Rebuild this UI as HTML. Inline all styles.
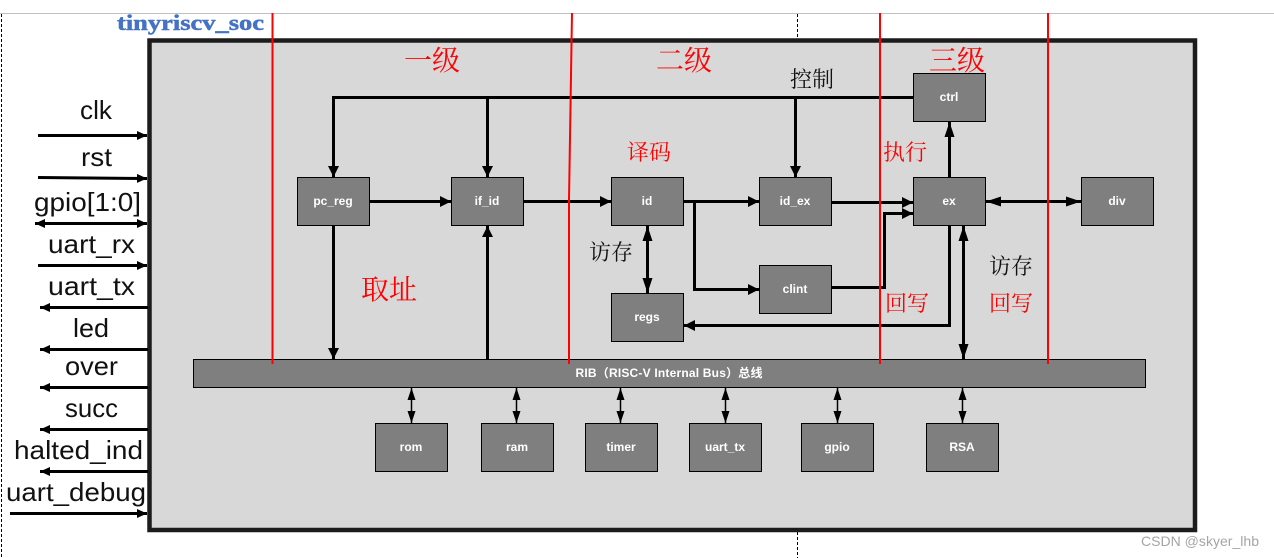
<!DOCTYPE html>
<html><head><meta charset="utf-8"><style>
html,body{margin:0;padding:0;background:#fff;width:1274px;height:558px;overflow:hidden}
svg{display:block}
.p{font:26px "Liberation Sans","Noto Sans CJK SC",sans-serif;fill:#111}
.b{font:bold 12px "Liberation Sans","Noto Sans CJK SC",sans-serif;fill:#fff;text-anchor:middle}
.c{font:25px "Noto Serif CJK SC",serif;fill:#111}
.r{font:25px "Noto Serif CJK SC",serif;fill:#f00}
.box{fill:#7f7f7f;stroke:#000;stroke-width:1}
.l{stroke:#000;stroke-width:3;fill:none}
</style></head><body>
<svg width="1274" height="558" viewBox="0 0 1274 558" xmlns="http://www.w3.org/2000/svg">
<defs>
<marker id="a" viewBox="0 0 10 10" refX="10" refY="5" markerWidth="10" markerHeight="9" preserveAspectRatio="none" markerUnits="userSpaceOnUse" orient="auto-start-reverse"><path d="M0 0L10 5L0 10Z" fill="#000"/></marker>
<marker id="A" viewBox="0 0 10 10" refX="10" refY="5" markerWidth="11" markerHeight="11" preserveAspectRatio="none" markerUnits="userSpaceOnUse" orient="auto-start-reverse"><path d="M0 0L10 5L0 10Z" fill="#000"/></marker>
<marker id="L" viewBox="0 0 10 10" refX="10" refY="5" markerWidth="15" markerHeight="10" preserveAspectRatio="none" markerUnits="userSpaceOnUse" orient="auto-start-reverse"><path d="M0 0L10 5L0 10Z" fill="#000"/></marker>
<marker id="s" viewBox="0 0 10 10" refX="10" refY="5" markerWidth="12" markerHeight="8" preserveAspectRatio="none" markerUnits="userSpaceOnUse" orient="auto-start-reverse"><path d="M0 0L10 5L0 10Z" fill="#000"/></marker>
</defs>
<rect width="1274" height="558" fill="#fff"/>
<line x1="0" y1="13.5" x2="1274" y2="13.5" stroke="#c0c0c0" stroke-width="1"/>
<line x1="1.5" y1="14" x2="1.5" y2="558" stroke="#000" stroke-dasharray="3 2"/>
<line x1="797.5" y1="14" x2="797.5" y2="39" stroke="#000" stroke-dasharray="3 2"/>
<line x1="797.5" y1="532" x2="797.5" y2="558" stroke="#000" stroke-dasharray="3 2"/>
<rect x="149.5" y="40.5" width="1045.5" height="489.5" fill="#d8d8d8" stroke="#1c1c1c" stroke-width="4.5"/>
<text x="117" y="30" style="font:bold 22px 'Liberation Serif',serif;fill:#4472c4;stroke:#4472c4;stroke-width:.5" textLength="147" lengthAdjust="spacingAndGlyphs">tinyriscv_soc</text>

<!-- left pins -->
<path class="l" d="M38 135.500H147" marker-end="url(#a)"/>
<path class="l" d="M38 177.500L147 178.500" marker-end="url(#a)"/>
<path class="l" d="M35 223.500H147" marker-start="url(#a)" marker-end="url(#a)"/>
<path class="l" d="M38 265.500H147" marker-end="url(#a)"/>
<path class="l" d="M148 307.500H40" marker-end="url(#a)"/>
<path class="l" d="M148 349.500H40" marker-end="url(#a)"/>
<path class="l" d="M148 387.500H40" marker-end="url(#a)"/>
<path class="l" d="M148 429.500H40" marker-end="url(#a)"/>
<path class="l" d="M148 471.500H40" marker-end="url(#a)"/>
<path class="l" d="M10 513.500H147" marker-end="url(#a)"/>
<text class="p" x="80" y="119" textLength="32" lengthAdjust="spacingAndGlyphs">clk</text>
<text class="p" x="81" y="166" textLength="31" lengthAdjust="spacingAndGlyphs">rst</text>
<text class="p" x="34" y="211" textLength="107" lengthAdjust="spacingAndGlyphs">gpio[1:0]</text>
<text class="p" x="48" y="253" textLength="87" lengthAdjust="spacingAndGlyphs">uart_rx</text>
<text class="p" x="48" y="295" textLength="87" lengthAdjust="spacingAndGlyphs">uart_tx</text>
<text class="p" x="73" y="337" textLength="36" lengthAdjust="spacingAndGlyphs">led</text>
<text class="p" x="65" y="375" textLength="53" lengthAdjust="spacingAndGlyphs">over</text>
<text class="p" x="65" y="417" textLength="53" lengthAdjust="spacingAndGlyphs">succ</text>
<text class="p" x="14" y="459" textLength="129" lengthAdjust="spacingAndGlyphs">halted_ind</text>
<text class="p" x="6" y="501" textLength="140" lengthAdjust="spacingAndGlyphs">uart_debug</text>

<!-- connectors -->
<path class="l" d="M914 97.500H333.500V177" marker-end="url(#A)"/>
<path class="l" d="M487.500 97.500V177" marker-end="url(#A)"/>
<path class="l" d="M795.500 97.500V177" marker-end="url(#A)"/>
<path class="l" d="M369 201.500H451" marker-end="url(#A)"/>
<path class="l" d="M523 201.500H611" marker-end="url(#A)"/>
<path class="l" d="M683 201.500H759" marker-end="url(#A)"/>
<path class="l" d="M694.500 201.500V289.500H759" marker-end="url(#A)"/>
<path class="l" d="M831 202.500H913" marker-end="url(#A)"/>
<path class="l" d="M831 287.500H884.500V213.500H913" marker-end="url(#A)"/>
<path class="l" d="M949.500 178V122" marker-end="url(#L)"/>
<path class="l" d="M986 201.500H1081" marker-start="url(#L)" marker-end="url(#L)"/>
<path class="l" d="M949.500 225V325.500H684" marker-end="url(#A)"/>
<path class="l" d="M963.500 226V359" marker-start="url(#L)" marker-end="url(#L)"/>
<path class="l" d="M647.500 226V293" marker-start="url(#L)" marker-end="url(#L)"/>
<path class="l" d="M333.500 225V359" marker-end="url(#A)"/>
<path class="l" d="M487.500 359V226" marker-end="url(#A)"/>
<g stroke="#000" stroke-width="1.500" fill="none">
<path d="M411.500 388V423" marker-start="url(#s)" marker-end="url(#s)"/>
<path d="M516.500 388V423" marker-start="url(#s)" marker-end="url(#s)"/>
<path d="M620.500 388V423" marker-start="url(#s)" marker-end="url(#s)"/>
<path d="M725.500 388V423" marker-start="url(#s)" marker-end="url(#s)"/>
<path d="M837.500 388V423" marker-start="url(#s)" marker-end="url(#s)"/>
<path d="M962.500 388V423" marker-start="url(#s)" marker-end="url(#s)"/>
</g>

<!-- boxes -->
<rect class="box" x="913.500" y="73.500" width="72" height="48"/><text class="b" x="949" y="101">ctrl</text>
<rect class="box" x="297.500" y="177.500" width="72" height="48"/><text class="b" x="333" y="205">pc_reg</text>
<rect class="box" x="451.500" y="177.500" width="72" height="48"/><text class="b" x="487" y="205">if_id</text>
<rect class="box" x="611.500" y="177.500" width="72" height="48"/><text class="b" x="647" y="205">id</text>
<rect class="box" x="759.500" y="177.500" width="72" height="48"/><text class="b" x="795" y="205">id_ex</text>
<rect class="box" x="913.500" y="177.500" width="72" height="48"/><text class="b" x="949" y="205">ex</text>
<rect class="box" x="1081.500" y="177.500" width="72" height="48"/><text class="b" x="1117" y="205">div</text>
<rect class="box" x="759.500" y="265.500" width="72" height="48"/><text class="b" x="795" y="293">clint</text>
<rect class="box" x="611.500" y="293.500" width="72" height="48"/><text class="b" x="647" y="321">regs</text>
<rect class="box" x="193.500" y="359.500" width="952" height="28"/><text class="b" x="669" y="377" textLength="187" lengthAdjust="spacing">RIB（RISC-V Internal Bus）总线</text>
<rect class="box" x="375.500" y="423.500" width="72" height="48"/><text class="b" x="411" y="451">rom</text>
<rect class="box" x="481.500" y="423.500" width="72" height="48"/><text class="b" x="517" y="451">ram</text>
<rect class="box" x="585.500" y="423.500" width="72" height="48"/><text class="b" x="621" y="451">timer</text>
<rect class="box" x="689.500" y="423.500" width="72" height="48"/><text class="b" x="725" y="451">uart_tx</text>
<rect class="box" x="801.500" y="423.500" width="72" height="48"/><text class="b" x="837" y="451">gpio</text>
<rect class="box" x="926.500" y="423.500" width="72" height="48"/><text class="b" x="962" y="451">RSA</text>

<!-- red dividers -->
<g stroke="#f00" stroke-width="2" fill="none">
<path d="M272.500 13V364"/>
<path d="M572 13L569 200V364"/>
<path d="M880 13V364"/>
<path d="M1048 13V364"/>
</g>

<!-- CJK labels -->
<text class="r" x="404" y="70" style="font-size:28px">一级</text>
<text class="r" x="656" y="70" style="font-size:28px">二级</text>
<text class="r" x="929" y="70" style="font-size:28px">三级</text>
<text class="c" x="790" y="87" style="font-size:22px">控制</text>
<text class="r" x="627" y="160" style="font-size:22px">译码</text>
<text class="r" x="883" y="160" style="font-size:22px">执行</text>
<text class="c" x="589" y="260" style="font-size:22px">访存</text>
<text class="c" x="989" y="274" style="font-size:22px">访存</text>
<text class="r" x="361" y="299" style="font-size:28px">取址</text>
<text class="r" x="885" y="311" style="font-size:22px">回写</text>
<text class="r" x="989" y="311" style="font-size:22px">回写</text>
<text x="1141" y="546" style="font:14px 'Liberation Sans',sans-serif;fill:#a5a5a5" textLength="118" lengthAdjust="spacingAndGlyphs">CSDN @skyer_lhb</text>
</svg>
</body></html>
